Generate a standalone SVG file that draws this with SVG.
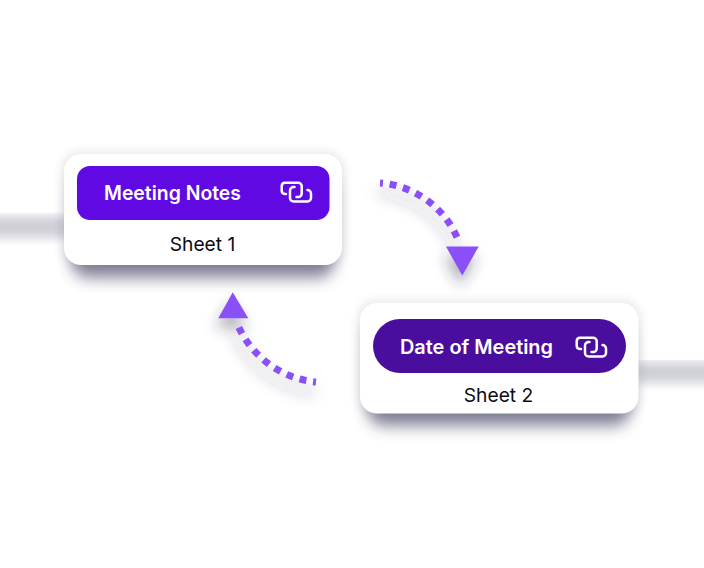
<svg xmlns="http://www.w3.org/2000/svg" width="704" height="568" viewBox="0 0 704 568">
<style>
.card{fill:#fff}
.halo{fill:#3a3a5c;opacity:.12;filter:url(#b5)}
.cs{fill:#3a3a5c;opacity:.62;filter:url(#b6)}
.ls{fill:#3a3a5c;opacity:.24;filter:url(#b4)}
.t{font-family:Inter,"Noto Sans",sans-serif;font-size:20px;font-weight:600;fill:#fff}
.s{font-family:Inter,"Noto Sans",sans-serif;font-size:19.2px;font-weight:400;fill:#0c0c14;text-anchor:middle}
.ic{fill:none;stroke:#fff;stroke-width:2.500;stroke-linecap:round;stroke-linejoin:round}
.d{fill:none;stroke:#8a50f6;stroke-width:7;stroke-dasharray:7 6.700}
.h{fill:#8a50f6}
.as{filter:url(#sh)}
</style>
<defs>
<filter id="b5" x="-20%" y="-40%" width="140%" height="180%"><feGaussianBlur stdDeviation="5"/></filter>
<filter id="b6" x="-20%" y="-40%" width="140%" height="180%"><feGaussianBlur stdDeviation="7.500"/></filter>
<filter id="b4" x="-30%" y="-200%" width="160%" height="500%"><feGaussianBlur stdDeviation="5"/></filter>
<filter id="sh" x="-50%" y="-50%" width="200%" height="200%"><feDropShadow dx="-2" dy="10" stdDeviation="7" flood-color="#33334f" flood-opacity=".4"/></filter>
<g id="icon"><path class="ic" d="M5 12H4A3.500 3.500 0 0 1 .700 8.500V4A3.500 3.500 0 0 1 4 .700H17A3.500 3.500 0 0 1 20.700 4V11.500A3.500 3.500 0 0 1 17 15H15.500"/><path class="ic" d="M13.500 5H12.500A3.500 3.500 0 0 0 9 8.500V16A3.500 3.500 0 0 0 12.500 19.500H26.500A3.500 3.500 0 0 0 30 16V11.500A3.500 3.500 0 0 0 26.500 8"/></g>
</defs>
<rect width="704" height="568" fill="#fff"/>
<g id="connectors">
<rect class="ls" x="-20" y="216" width="88" height="22"/>
<rect x="0" y="207.500" width="66" height="5" fill="#fff"/>
<rect class="ls" x="636" y="362" width="88" height="21"/>
<rect x="636" y="355" width="68" height="5" fill="#fff"/>
<g class="as">
<path class="d" stroke-dashoffset="4" d="M380 183C412 185 445 206 458.500 241"/>
<polygon class="h" points="446,246.500 478.700,246.500 462.300,275.500"/>
</g>
<g class="as">
<path class="d" stroke-dashoffset="4" d="M316 382C283 379 251 358 236.500 322"/>
<polygon class="h" points="232.700,292.300 218.300,318.300 248.300,318.300"/>
</g>
</g>
<g id="node-sheet-1">
<rect class="halo" x="62" y="152" width="282" height="115" rx="17"/>
<rect class="cs" x="72" y="172" width="262" height="106" rx="16"/>
<rect class="card" x="64" y="154" width="278" height="111" rx="17"/>
<rect x="77" y="166" width="252.500" height="54" rx="13" fill="#6109e3"/>
<text class="t" x="104" y="200" textLength="137" lengthAdjust="spacingAndGlyphs">Meeting Notes</text>
<use href="#icon" x="281" y="182"/>
<text class="s" x="202.500" y="251">Sheet 1</text>
</g>
<g id="node-sheet-2">
<rect class="halo" x="358" y="301" width="282.500" height="114.500" rx="17"/>
<rect class="cs" x="368" y="321" width="262" height="105" rx="16"/>
<rect class="card" x="360" y="303" width="278.500" height="110.500" rx="17"/>
<rect x="373" y="319" width="253" height="54" rx="27" fill="#4a0e9e"/>
<text class="t" x="400" y="354" textLength="153" lengthAdjust="spacingAndGlyphs">Date of Meeting</text>
<use href="#icon" x="576" y="337"/>
<text class="s" x="498.500" y="402">Sheet 2</text>
</g>
</svg>
